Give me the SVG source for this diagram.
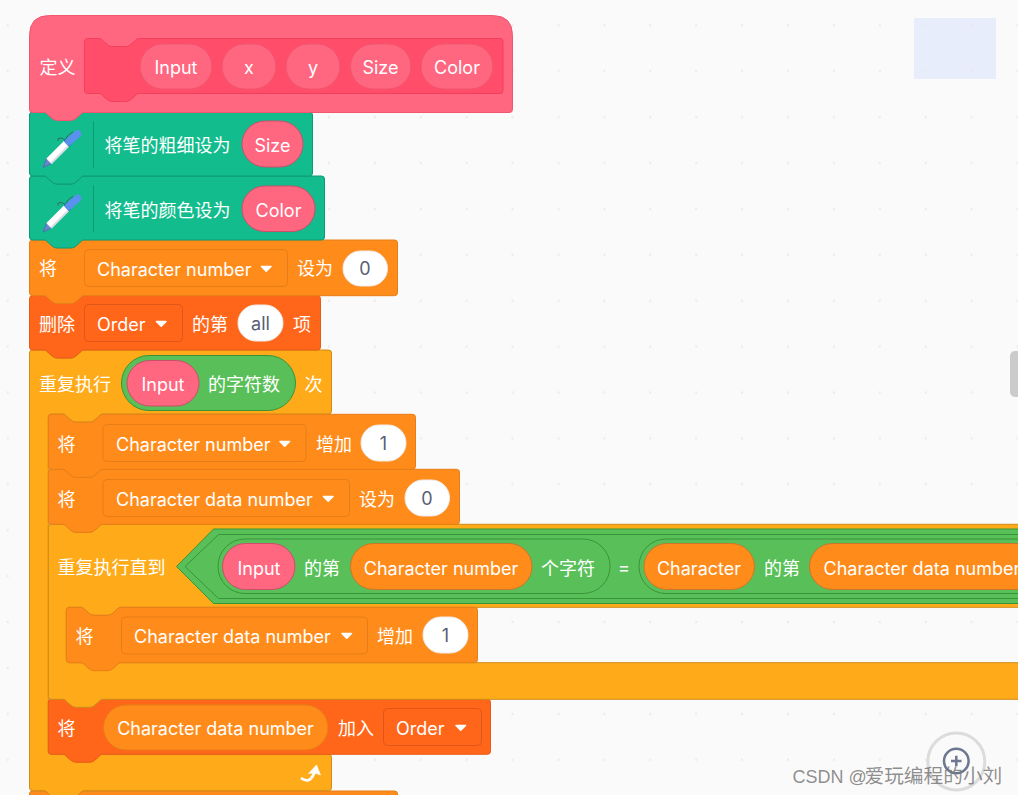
<svg xmlns="http://www.w3.org/2000/svg" width="1018" height="795" viewBox="0 0 1018 795">
<style>
text{font-family:"Inter","Noto Sans CJK SC","Noto Sans",sans-serif;font-size:18px;fill:#fff}
.m{text-anchor:middle}
.d{fill:#575e75}
.o{fill:#ff8c1a;stroke:#e67e17;stroke-width:1}
.r{fill:#ff661a;stroke:#e65c17;stroke-width:1}
.y{fill:#ffab19;stroke:#cf8b17;stroke-width:1}
.e{fill:#12bc8d;stroke:#0f9a74;stroke-width:1}
.p{fill:#ff6680;stroke:#f0566f;stroke-width:1}
.pv{fill:#ff6680;stroke:#c94f6a;stroke-width:1}
.pi{fill:#ff4d6a;stroke:#f0405e;stroke-width:1}
.g{fill:#59c059;stroke:#389438;stroke-width:1}
.w{fill:#fff;stroke:#ececec;stroke-width:1}
.vo{fill:#ff8c1a;stroke:#c9772a;stroke-width:1}
.tri{fill:#fff;stroke:#fff;stroke-width:1.5;stroke-linejoin:round}
.sep{stroke:#0f9a74;stroke-width:1}
</style>
<defs>
<pattern id="dots" width="45.9" height="45.9" patternUnits="userSpaceOnUse" x="-15.25" y="2.35">
<path d="M21.8 23h2.3M22.95 21.8v2.3" stroke="#e6e7ea" stroke-width="1"/>
</pattern>
<g id="pen">
<path d="M58 141q-1-3 2-3q3 0 5 2q3-6 8-8" fill="none" stroke="#2f6b62" stroke-width="1"/>
<path d="M43 167.500L46.500 158.500l5 5z" fill="#6a86cc" stroke="#4a67ad" stroke-width=".8"/>
<path d="M49 161.500L66.500 144" stroke="#d9dde8" stroke-width="7.500"/>
<path d="M48.500 160.500L66 143" stroke="#fff" stroke-width="5.500"/>
<path d="M66.500 144L69 141.500" stroke="#3f6fc8" stroke-width="7.500"/>
<path d="M69 141.500L77.500 134" stroke="#5a90ee" stroke-width="7.500" stroke-linecap="round"/>
</g>
<path id="tr" d="M0 0h9.500l-4.750 4.750z" class="tri"/>
</defs>
<rect width="1018" height="795" fill="#fafafa"/>
<rect x="914" y="18" width="82" height="61" fill="#e8edfb"/>
<rect width="1018" height="795" fill="url(#dots)"/>
<rect id="scrollbar" x="1010" y="351" width="20" height="46" rx="5" fill="#cbcbcb"/>

<g id="connectors"></g>

<g id="next-block">
<path class="o" d="M29.500 794q0-3 3-3H44.500q2 0 4 3l5 4q2 1 4 1h13q2 0 4-1l5-4q2-3 4-3H394.500q3 0 3 3V830H29.500Z"/>
</g>

<g id="repeat-input">
<path class="y" d="M29.500 353q0-3 3-3H44.500q2 0 4 3l5 4q2 1 4 1h13q2 0 4-1l5-4q2-3 4-3H328.500q3 0 3 3V411q0 3-3 3H102.300q-2 0-4 3l-5 4q-2 1-4 1h-13q-2 0-4-1l-5-4q-2-3-4-3H51.300q-3 0-3 3V751.300q0 3 3 3H328.500q3 0 3 3V787.700q0 3-3 3H83.500q-2 0-4 3l-5 4q-2 1-4 1h-13q-2 0-4-1l-5-4q-2-3-4-3H32.500q-3 0-3-3Z"/>
<text x="39" y="391">重复执行</text>
<rect class="g" x="121.500" y="355.500" width="174" height="55" rx="27.500"/>
<rect class="pv" x="127" y="360.500" width="72" height="45.500" rx="22.750"/>
<text class="m" x="163" y="390.500">Input</text>
<text x="208" y="391">的字符数</text>
<text x="304.500" y="391">次</text>
<path d="M301 778Q310 785 314.500 772" fill="none" stroke="#fff" stroke-width="2.800"/>
<path d="M308.500 773.500L316.500 765L320.500 775Q315 772 308.500 773.500Z" fill="#fff" stroke="#fff" stroke-width=".6"/>
</g>

<g id="add-to-order">
<path class="r" d="M48.300 702.300q0-3 3-3H63.300q2 0 4 3l5 4q2 1 4 1h13q2 0 4-1l5-4q2-3 4-3H487.500q3 0 3 3V751.300q0 3-3 3H102.300q-2 0-4 3l-5 4q-2 1-4 1h-13q-2 0-4-1l-5-4q-2-3-4-3H51.300q-3 0-3-3Z"/>
<text x="57.500" y="735">将</text>
<rect class="o" x="103.500" y="705" width="224.500" height="45" rx="22.500"/>
<text class="m" x="215.500" y="735">Character data number</text>
<text x="338" y="735">加入</text>
<rect class="r" style="stroke:#e0561a" x="383.500" y="708.500" width="98" height="37" rx="4"/>
<text x="396" y="735">Order</text>
<use href="#tr" x="456" y="725.500"/>
</g>

<g id="repeat-until">
<path class="y" d="M48.300 527.300q0-3 3-3H63.300q2 0 4 3l5 4q2 1 4 1h13q2 0 4-1l5-4q2-3 4-3H1030V607.300H120.300q-2 0-4 3l-5 4q-2 1-4 1h-13q-2 0-4-1l-5-4q-2-3-4-3H69.300q-3 0-3 3V659.700q0 3 3 3H1030V699.300H102.300q-2 0-4 3l-5 4q-2 1-4 1h-13q-2 0-4-1l-5-4q-2-3-4-3H51.300q-3 0-3-3Z"/>
<text x="57.500" y="574">重复执行直到</text>
<path class="g" d="M176.500 566.500L213.500 529H1030V603.500H213.500Z"/>
<path class="g" d="M185 566.500L218.500 534.500H1030V598.500H218.500Z"/>
<rect class="g" x="218" y="539" width="392" height="54.500" rx="27"/>
<rect class="g" x="639" y="539" width="500" height="54.500" rx="27"/>
<rect class="pv" x="222.500" y="543.500" width="72.500" height="46" rx="23"/>
<text class="m" x="259" y="574.500">Input</text>
<text x="304" y="575">的第</text>
<rect class="vo" x="350.500" y="543.500" width="181.500" height="46" rx="23"/>
<text class="m" x="441" y="574.500">Character number</text>
<text x="541" y="575">个字符</text>
<text class="m" x="624" y="574">=</text>
<rect class="vo" x="644" y="543.500" width="110.500" height="46" rx="23"/>
<text class="m" x="699" y="574.500">Character</text>
<text x="764" y="575">的第</text>
<rect class="vo" x="809.500" y="543.500" width="300" height="46" rx="23"/>
<text x="823.500" y="574.500">Character data number</text>
</g>

<g id="inc-data-number">
<path class="o" d="M66.300 610.300q0-3 3-3H81.300q2 0 4 3l5 4q2 1 4 1h13q2 0 4-1l5-4q2-3 4-3H474.500q3 0 3 3V659.700q0 3-3 3H120.300q-2 0-4 3l-5 4q-2 1-4 1h-13q-2 0-4-1l-5-4q-2-3-4-3H69.300q-3 0-3-3Z"/>
<text x="75.500" y="643">将</text>
<rect class="o" x="121.500" y="617" width="246" height="37" rx="4"/>
<text x="134" y="643">Character data number</text>
<use href="#tr" x="342" y="633.500"/>
<text x="377" y="643">增加</text>
<rect class="w" x="423" y="617" width="45" height="36" rx="18"/>
<text class="m d" x="445.500" y="642">1</text>
</g>

<g id="set-data-number">
<path class="o" d="M48.300 472.300q0-3 3-3H63.300q2 0 4 3l5 4q2 1 4 1h13q2 0 4-1l5-4q2-3 4-3H456.500q3 0 3 3V521.300q0 3-3 3H102.300q-2 0-4 3l-5 4q-2 1-4 1h-13q-2 0-4-1l-5-4q-2-3-4-3H51.300q-3 0-3-3Z"/>
<text x="57.500" y="506">将</text>
<rect class="o" x="103" y="479.500" width="246.500" height="37" rx="4"/>
<text x="116" y="506">Character data number</text>
<use href="#tr" x="323.500" y="496.500"/>
<text x="359" y="506">设为</text>
<rect class="w" x="405" y="480" width="44.500" height="36" rx="18"/>
<text class="m d" x="427" y="505">0</text>
</g>

<g id="inc-number">
<path class="o" d="M48.300 417.300q0-3 3-3H63.300q2 0 4 3l5 4q2 1 4 1h13q2 0 4-1l5-4q2-3 4-3H412.500q3 0 3 3V466.300q0 3-3 3H102.300q-2 0-4 3l-5 4q-2 1-4 1h-13q-2 0-4-1l-5-4q-2-3-4-3H51.300q-3 0-3-3Z"/>
<text x="57.500" y="451">将</text>
<rect class="o" x="103" y="424.500" width="203" height="37" rx="4"/>
<text x="116" y="451">Character number</text>
<use href="#tr" x="280" y="441.500"/>
<text x="316" y="451">增加</text>
<rect class="w" x="361" y="425" width="45" height="36" rx="18"/>
<text class="m d" x="383.500" y="450">1</text>
</g>

<g id="delete-order">
<path class="r" d="M29.500 298.700q0-3 3-3H44.500q2 0 4 3l5 4q2 1 4 1h13q2 0 4-1l5-4q2-3 4-3H317.500q3 0 3 3V347q0 3-3 3H83.500q-2 0-4 3l-5 4q-2 1-4 1h-13q-2 0-4-1l-5-4q-2-3-4-3H32.500q-3 0-3-3Z"/>
<text x="39" y="331">删除</text>
<rect class="r" style="stroke:#e0561a" x="84.500" y="304.500" width="98" height="37" rx="4"/>
<text x="97" y="331">Order</text>
<use href="#tr" x="156.500" y="321.500"/>
<text x="192" y="331">的第</text>
<rect class="w" x="238" y="305" width="45" height="36" rx="18"/>
<text class="m d" x="260.500" y="330">all</text>
<text x="293" y="331">项</text>
</g>

<g id="set-number">
<path class="o" d="M29.500 243q0-3 3-3H44.500q2 0 4 3l5 4q2 1 4 1h13q2 0 4-1l5-4q2-3 4-3H394.500q3 0 3 3V292.700q0 3-3 3H83.500q-2 0-4 3l-5 4q-2 1-4 1h-13q-2 0-4-1l-5-4q-2-3-4-3H32.500q-3 0-3-3Z"/>
<text x="39" y="275">将</text>
<rect class="o" x="84.500" y="249.500" width="203" height="37" rx="4"/>
<text x="97" y="275.500">Character number</text>
<use href="#tr" x="261.500" y="266.500"/>
<text x="297" y="275">设为</text>
<rect class="w" x="343" y="251" width="44.500" height="35" rx="17.500"/>
<text class="m d" x="365" y="275">0</text>
</g>

<g id="pen-color">
<path class="e" d="M29.500 179q0-3 3-3H44.500q2 0 4 3l5 4q2 1 4 1h13q2 0 4-1l5-4q2-3 4-3H321.500q3 0 3 3V237q0 3-3 3H83.500q-2 0-4 3l-5 4q-2 1-4 1h-13q-2 0-4-1l-5-4q-2-3-4-3H32.500q-3 0-3-3Z"/>
<use href="#pen" y="64.500"/>
<path class="sep" d="M93.500 185V232"/>
<text x="104.500" y="217">将笔的颜色设为</text>
<rect class="pv" x="242" y="186" width="73" height="45.500" rx="22.750"/>
<text class="m" x="278.500" y="217">Color</text>
</g>

<g id="pen-size">
<path class="e" d="M29.500 115q0-3 3-3H44.500q2 0 4 3l5 4q2 1 4 1h13q2 0 4-1l5-4q2-3 4-3H309.500q3 0 3 3V173q0 3-3 3H83.500q-2 0-4 3l-5 4q-2 1-4 1h-13q-2 0-4-1l-5-4q-2-3-4-3H32.500q-3 0-3-3Z"/>
<use href="#pen"/>
<path class="sep" d="M93.500 121V168"/>
<text x="104.500" y="152">将笔的粗细设为</text>
<rect class="pv" x="242" y="121" width="61" height="46" rx="23"/>
<text class="m" x="272.500" y="152">Size</text>
</g>

<g id="define">
<path class="p" d="M29.500 35.500Q29.500 15.500 49.500 15.500H492.500Q512.500 15.500 512.500 35.500V109.500q0 3-3 3H83.500q-2 0-4 3l-5 4q-2 1-4 1h-13q-2 0-4-1l-5-4q-2-3-4-3H32.500q-3 0-3-3Z"/>
<text x="39.500" y="74">定义</text>
<path class="pi" d="M84.500 41.500q0-3 3-3H99.500q2 0 4 3l5 4q2 1 4 1h13q2 0 4-1l5-4q2-3 4-3H500q3 0 3 3V90.500q0 3-3 3H138.500q-2 0-4 3l-5 4q-2 1-4 1h-13q-2 0-4-1l-5-4q-2-3-4-3H87.500q-3 0-3-3Z"/>
<rect class="p" x="140" y="44" width="72" height="45" rx="22.500"/>
<rect class="p" x="222" y="44" width="54" height="45" rx="22.500"/>
<rect class="p" x="286" y="44" width="54" height="45" rx="22.500"/>
<rect class="p" x="350.500" y="44" width="60.500" height="45" rx="22.500"/>
<rect class="p" x="421" y="44" width="72" height="45" rx="22.500"/>
<text class="m" x="176" y="74">Input</text>
<text class="m" x="249" y="74">x</text>
<text class="m" x="313" y="74">y</text>
<text class="m" x="380.500" y="74">Size</text>
<text class="m" x="457" y="74">Color</text>
</g>

<g id="zoom-button">
<circle cx="956.300" cy="761.500" r="28.500" fill="#fafafa" stroke="#dcdcdc" stroke-width="3"/>
<circle cx="956.300" cy="761" r="12.300" fill="none" stroke="#6b7890" stroke-width="2.500"/>
<path d="M951 761h10.500M956.300 755.800v10.500" stroke="#6b7890" stroke-width="2.500"/>
</g>
<text id="watermark" x="792.500" y="783" style="fill:#7a7a7a;fill-opacity:.85;font-family:'Liberation Sans','Noto Sans CJK SC',sans-serif"><tspan>CSDN @</tspan><tspan x="864.500" font-size="19.700">爱玩编程的小刘</tspan></text>
</svg>
